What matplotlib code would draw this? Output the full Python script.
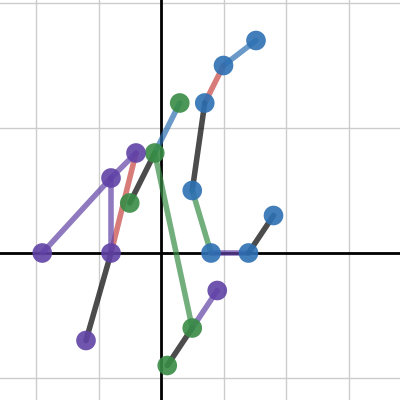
import matplotlib
matplotlib.use("Agg")
import matplotlib.pyplot as plt

RED, BLUE, GREEN, PURPLE, BLACK = "#c74440", "#2d70b3", "#388c46", "#6042a6", "#000000"

seg_x1 = [1.0, 0.7, 0.5, 0.5, 0.8, 1.4, -0.1, -0.5, -0.1, 0.5, 0.5, -0.8, -0.8, -1.9, -0.8, -0.8]
seg_y1 = [3.0, 2.4, 1.0, 1.0, 0.0, 0.0, 1.6, 0.8, 1.6, -1.2, -1.2, 0.0, 1.2, 0.0, 1.2, 0.0]
seg_x2 = [1.52, 1.0, 0.7, 0.8, 1.4, 1.8, 0.3, -0.1, 0.5, 0.1, 0.9, -0.4, -0.8, -0.8, -0.4, -1.2]
seg_y2 = [3.4, 3.0, 2.4, 0.0, 0.0, 0.6, 2.4, 1.6, -1.2, -1.8, -0.6, 1.6, 0.0, 1.2, 1.6, -1.4]
seg_c = [BLUE, RED, BLACK, GREEN, PURPLE, BLACK, BLUE, BLACK, GREEN, BLACK, PURPLE, RED, PURPLE, PURPLE, PURPLE, BLACK]

pt_x = [1.52, 1.0, 0.7, 0.5, 0.8, 1.4, 1.8, 0.3, -0.1, -0.5, 0.1, 0.5, 0.9, -0.4, -0.8, -1.9, -0.8, -1.2]
pt_y = [3.4, 3.0, 2.4, 1.0, 0.0, 0.0, 0.6, 2.4, 1.6, 0.8, -1.8, -1.2, -0.6, 1.6, 1.2, 0.0, 0.0, -1.4]
pt_c = [BLUE]*7 + [GREEN]*5 + [PURPLE]*6

fig = plt.figure(figsize=(4, 4), dpi=100)
ax = fig.add_axes([0, 0, 1, 1])
ax.set_xlim(-161/62.5, 239/62.5)
ax.set_ylim(-147/62.5, 253/62.5)
for gx in range(-2, 4):
    ax.axvline(gx, color="#cccccc", lw=1, zorder=0)
for gy in range(-2, 5, 2):
    ax.axhline(gy, color="#cccccc", lw=1, zorder=0)
ax.axvline(0, color="black", lw=2, zorder=1)
ax.axhline(0, color="black", lw=2, zorder=1)
for x1, y1, x2, y2, c in zip(seg_x1, seg_y1, seg_x2, seg_y2, seg_c):
    ax.plot([x1, x2], [y1, y2], color=c, lw=4, alpha=0.7, solid_capstyle="round", zorder=2)
ax.scatter(pt_x, pt_y, s=200, c=pt_c, alpha=0.9, linewidths=0, zorder=3)
ax.set_xticks([]); ax.set_yticks([])
for s in ax.spines.values():
    s.set_visible(False)
fig.savefig("out.png", dpi=100)
